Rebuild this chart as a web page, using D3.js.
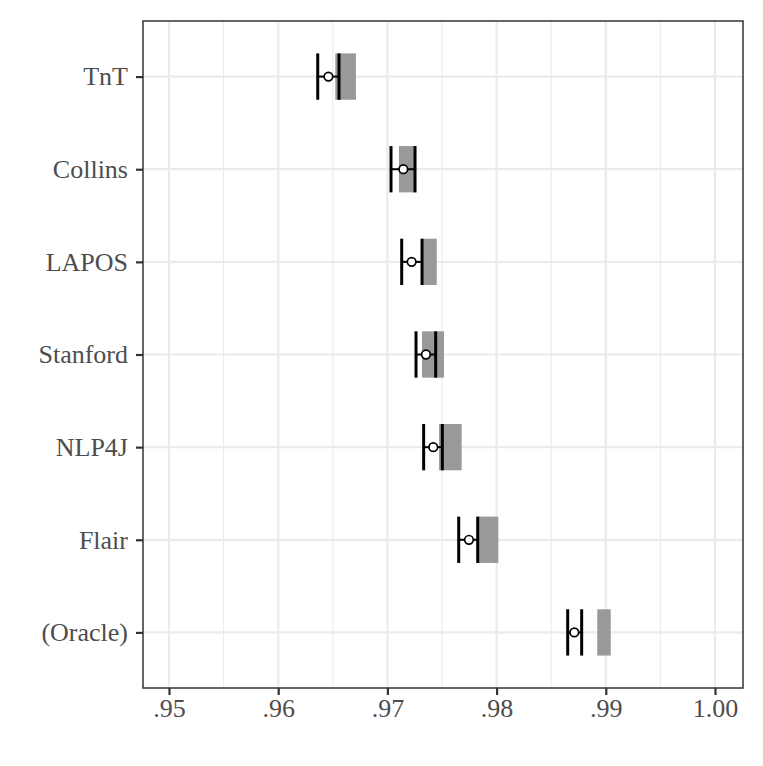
<!DOCTYPE html>
<html><head><meta charset="utf-8">
<script src="https://cdn.jsdelivr.net/npm/d3@7"></script>
<style>body{margin:0;background:#fff}</style>
</head><body>
<svg id="c" width="763" height="766"></svg>
<script>
const models = ["TnT","Collins","LAPOS","Stanford","NLP4J","Flair","(Oracle)"];
const meanAcc = [0.9646,0.97146,0.97222,0.97353,0.97420,0.97747,0.98712];
const ciLow   = [0.96362,0.97033,0.97131,0.97262,0.97332,0.97653,0.98651];
const ciHigh  = [0.96557,0.97253,0.97317,0.97442,0.97503,0.97827,0.98779];
const refLow  = [0.96523,0.97106,0.97317,0.97317,0.97473,0.97833,0.98922];
const refHigh = [0.96712,0.97256,0.97452,0.97518,0.97680,0.98016,0.99045];
const xTicks = [0.95,0.96,0.97,0.98,0.99,1.00];
const xTickLabels = [".95",".96",".97",".98",".99","1.00"];
const xMinor = [0.955,0.965,0.975,0.985,0.995];

const svg = d3.select("#c");
const panel = {l:143, r:743, t:21, b:688};
const x = d3.scaleLinear().domain([0.95,1.00]).range([169,715]);
const unit = (panel.b-panel.t)/7.2;
const y = d3.scalePoint().domain(models).range([panel.t+0.6*unit, panel.b-0.6*unit]);
const h = unit*0.5;

svg.append("rect").attr("x",panel.l).attr("y",panel.t).attr("width",panel.r-panel.l).attr("height",panel.b-panel.t).attr("fill","#fff");
const g = svg.append("g");
g.selectAll(".mn").data(xMinor).join("line").attr("x1",d=>x(d)).attr("x2",d=>x(d)).attr("y1",panel.t).attr("y2",panel.b).attr("stroke","#EBEBEB").attr("stroke-width",1.1);
g.selectAll(".mj").data(xTicks).join("line").attr("x1",d=>x(d)).attr("x2",d=>x(d)).attr("y1",panel.t).attr("y2",panel.b).attr("stroke","#EBEBEB").attr("stroke-width",2.2);
g.selectAll(".hy").data(models).join("line").attr("x1",panel.l).attr("x2",panel.r).attr("y1",d=>y(d)).attr("y2",d=>y(d)).attr("stroke","#EBEBEB").attr("stroke-width",2.2);

const idx = d3.range(models.length);
g.selectAll(".ref").data(idx).join("rect")
  .attr("x",i=>x(refLow[i])).attr("width",i=>x(refHigh[i])-x(refLow[i]))
  .attr("y",i=>y(models[i])-h/2).attr("height",h).attr("fill","#999999");
g.selectAll(".eh").data(idx).join("line")
  .attr("x1",i=>x(ciLow[i])).attr("x2",i=>x(ciHigh[i]))
  .attr("y1",i=>y(models[i])).attr("y2",i=>y(models[i]))
  .attr("stroke","#000").attr("stroke-width",2);
[ciLow,ciHigh].forEach(arr=>{
  g.selectAll(null).data(idx).join("line")
    .attr("x1",i=>x(arr[i])).attr("x2",i=>x(arr[i]))
    .attr("y1",i=>y(models[i])-h/2).attr("y2",i=>y(models[i])+h/2)
    .attr("stroke","#000").attr("stroke-width",3);
});
g.selectAll(".pt").data(idx).join("circle")
  .attr("cx",i=>x(meanAcc[i])).attr("cy",i=>y(models[i])).attr("r",4.3)
  .attr("fill","#fff").attr("stroke","#000").attr("stroke-width",1.7);

svg.append("rect").attr("x",panel.l).attr("y",panel.t).attr("width",panel.r-panel.l).attr("height",panel.b-panel.t).attr("fill","none").attr("stroke","#333333").attr("stroke-width",1.5);

const fontFam = "'Liberation Serif','DejaVu Serif',serif";
const xa = svg.append("g").attr("transform",`translate(0,${panel.b})`)
  .call(d3.axisBottom(x).tickValues(xTicks).tickFormat((d,i)=>xTickLabels[i]).tickSize(7).tickPadding(4));
const ya = svg.append("g").attr("transform",`translate(${panel.l},0)`)
  .call(d3.axisLeft(y).tickSize(7).tickPadding(8));
[xa,ya].forEach(a=>{
  a.select(".domain").remove();
  a.selectAll(".tick line").attr("stroke","#333333").attr("stroke-width",2.2);
  a.selectAll(".tick text").attr("fill","#4D4D4D").style("font-family",fontFam).style("font-size","26px");
});
</script>
</body></html>
